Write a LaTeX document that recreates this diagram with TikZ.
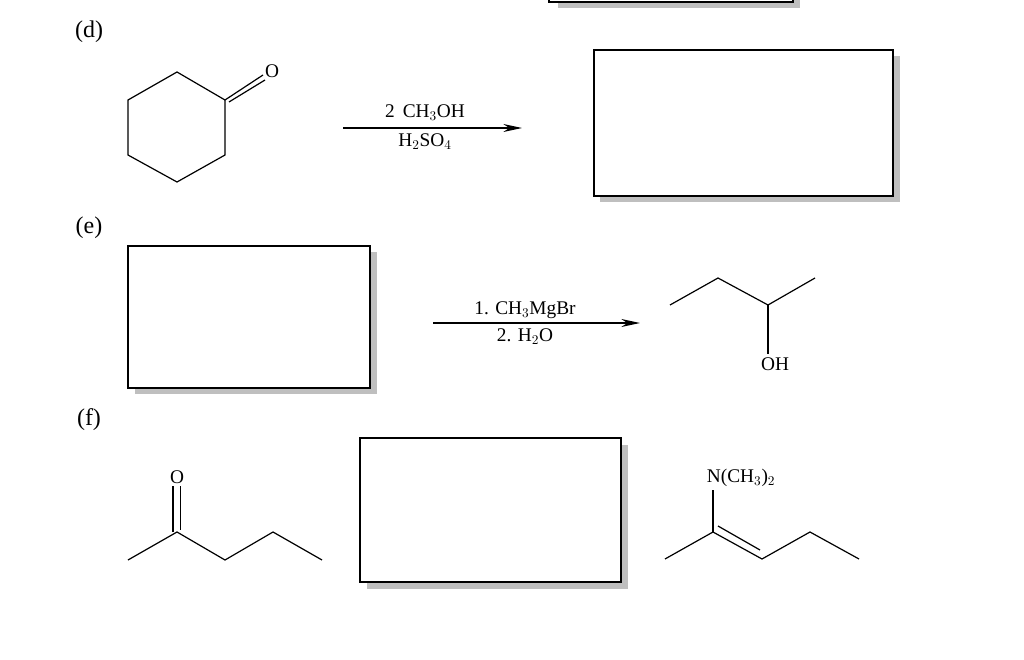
\documentclass[tikz,border=0pt]{standalone}
\usepackage{fontspec}
\setmainfont{Liberation Serif}
\usetikzlibrary{arrows.meta}
\begin{document}
\begin{tikzpicture}[x=0.75pt,y=-0.75pt,line width=0.9pt,
  bond/.style={line width=0.9pt},
  lbl/.style={font=\fontsize{18}{20}\selectfont},
  txt/.style={font=\fontsize{14.5}{16}\selectfont,inner sep=1pt},
  atom/.style={font=\fontsize{14.5}{16}\selectfont,inner sep=1pt},
  answer/.style={draw,line width=1pt,fill=white},
  shadow/.style={fill=black!25,draw=none},
  rxn/.style={line width=1pt,-{Stealth[length=14pt,width=6pt]}}]
\useasboundingbox (0,0) rectangle (1024,660);
% top partial box
\fill[shadow] (558,-10) rectangle (800,8);
\draw[answer] (549,-10) rectangle (793,2);
% (d)
\node[lbl] (ld) at (89,32) {(d)};
\coordinate (c1) at (177,72); \coordinate (c2) at (225,100); \coordinate (c3) at (225,155);
\coordinate (c4) at (177,182); \coordinate (c5) at (128,155); \coordinate (c6) at (128,100);
\draw[bond] (c1)--(c2)--(c3)--(c4)--(c5)--(c6)--cycle;
\node[atom] (o1) at (272,71) {O};
\draw[bond] (c2)--(263,75);
\draw[bond] (229,102)--(265,80);
\node[txt] (r1) at (425,113) {2\, CH$_3$OH};
\node[txt] (r2) at (425,142) {H$_2$SO$_4$};
\coordinate (a1s) at (343,128); \coordinate (a1e) at (522,128);
\draw[rxn] (a1s)--(a1e);
\fill[shadow] (600,56) rectangle (900,202);
\draw[answer] (594,50) rectangle (893,196);
% (e)
\node[lbl] (le) at (89,228) {(e)};
\fill[shadow] (135,252) rectangle (377,394);
\draw[answer] (128,246) rectangle (370,388);
\node[txt] (r3) at (525,310) {1. CH$_3$MgBr};
\node[txt] (r4) at (525,337) {2. H$_2$O};
\coordinate (a2s) at (433,323); \coordinate (a2e) at (640,323);
\draw[rxn] (a2s)--(a2e);
\coordinate (b1) at (670,305); \coordinate (b2) at (718,278); \coordinate (b3) at (768,305); \coordinate (b4) at (815,278);
\draw[bond] (b1)--(b2)--(b3)--(b4);
\node[atom] (oh) at (775,364) {OH};
\draw[bond] (b3)--(768,354);
% (f)
\node[lbl] (lf) at (89,420) {(f)};
\coordinate (p1) at (128,560); \coordinate (p2) at (177,532); \coordinate (p3) at (225,560);
\coordinate (p4) at (273,532); \coordinate (p5) at (322,560);
\draw[bond] (p1)--(p2)--(p3)--(p4)--(p5);
\node[atom] (o2) at (177,477) {O};
\draw[bond] (173,532)--(173,486);
\draw[bond] (180.5,530)--(180.5,486);
\fill[shadow] (367,445) rectangle (628,589);
\draw[answer] (360,438) rectangle (621,582);
\coordinate (e1) at (665,559); \coordinate (e2) at (713,532); \coordinate (e3) at (762,559);
\coordinate (e4) at (810,532); \coordinate (e5) at (859,559);
\draw[bond] (e1)--(e2)--(e3)--(e4)--(e5);
\draw[bond] (718,526)--(760,550);
\node[atom,anchor=west] (n1) at (705,478) {N(CH$_3$)$_2$};
\draw[bond] (e2)--(713,490);
\end{tikzpicture}
\end{document}
